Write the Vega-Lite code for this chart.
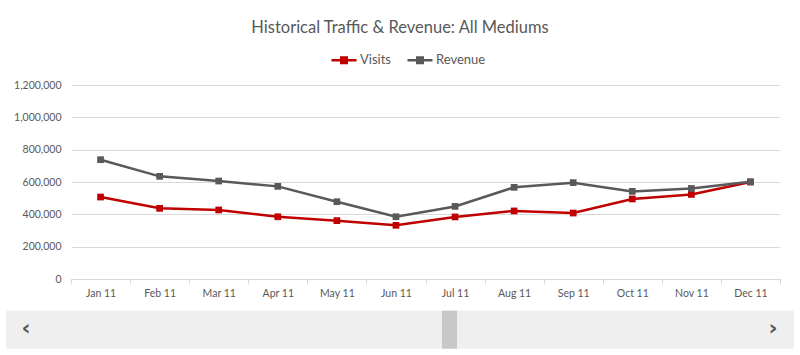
{
  "$schema": "https://vega.github.io/schema/vega-lite/v6.json",
  "width": 709,
  "height": 194,
  "autosize": {"type": "none"},
  "padding": {"left": 71, "top": 85, "right": 20, "bottom": 76},
  "background": "white",
  "title": {
    "text": "Historical Traffic & Revenue: All Mediums",
    "font": "Lato",
    "fontSize": 16.5,
    "fontWeight": "normal",
    "color": "#595959",
    "anchor": "middle",
    "frame": "bounds",
    "offset": 10
  },
  "config": {
    "view": {"stroke": null},
    "font": "Lato"
  },
  "datasets": {
    "series": [
      {"month": "Jan 11", "series": "Visits", "value": 507000},
      {"month": "Feb 11", "series": "Visits", "value": 437000},
      {"month": "Mar 11", "series": "Visits", "value": 427000},
      {"month": "Apr 11", "series": "Visits", "value": 385000},
      {"month": "May 11", "series": "Visits", "value": 361000},
      {"month": "Jun 11", "series": "Visits", "value": 332000},
      {"month": "Jul 11", "series": "Visits", "value": 384000},
      {"month": "Aug 11", "series": "Visits", "value": 421000},
      {"month": "Sep 11", "series": "Visits", "value": 408000},
      {"month": "Oct 11", "series": "Visits", "value": 495000},
      {"month": "Nov 11", "series": "Visits", "value": 523000},
      {"month": "Dec 11", "series": "Visits", "value": 600000},
      {"month": "Jan 11", "series": "Revenue", "value": 738000},
      {"month": "Feb 11", "series": "Revenue", "value": 635000},
      {"month": "Mar 11", "series": "Revenue", "value": 606000},
      {"month": "Apr 11", "series": "Revenue", "value": 573000},
      {"month": "May 11", "series": "Revenue", "value": 478000},
      {"month": "Jun 11", "series": "Revenue", "value": 385000},
      {"month": "Jul 11", "series": "Revenue", "value": 449000},
      {"month": "Aug 11", "series": "Revenue", "value": 567000},
      {"month": "Sep 11", "series": "Revenue", "value": 596000},
      {"month": "Oct 11", "series": "Revenue", "value": 542000},
      {"month": "Nov 11", "series": "Revenue", "value": 560000},
      {"month": "Dec 11", "series": "Revenue", "value": 601000}
    ],
    "arrows": [
      {"arrow": "‹", "side": "left"},
      {"arrow": "›", "side": "right"}
    ]
  },
  "resolve": {"scale": {"x": "independent", "y": "independent"}},
  "layer": [
    {
      "data": {"values": [{}]},
      "mark": {"type": "rect", "color": "#efefef"},
      "encoding": {
        "x": {"datum": -65, "type": "quantitative", "scale": {"domain": [0, 709], "nice": false, "zero": false}, "axis": null},
        "x2": {"datum": 723},
        "y": {"datum": -196000, "type": "quantitative", "scale": {"domain": [0, 1200000], "nice": false}, "axis": null},
        "y2": {"datum": -431000}
      }
    },
    {
      "data": {"values": [{}]},
      "mark": {"type": "rect", "color": "#c8c8c8"},
      "encoding": {
        "x": {"datum": 371, "type": "quantitative", "scale": {"domain": [0, 709], "nice": false, "zero": false}, "axis": null},
        "x2": {"datum": 386},
        "y": {"datum": -196000, "type": "quantitative", "scale": {"domain": [0, 1200000], "nice": false}, "axis": null},
        "y2": {"datum": -431000}
      }
    },
    {
      "data": {"name": "arrows"},
      "mark": {"type": "text", "font": "DejaVu Sans", "fontWeight": "bold", "fontSize": 22, "color": "#595959", "baseline": "middle", "align": "center"},
      "encoding": {
        "x": {"field": "side", "type": "nominal", "scale": {"type": "point", "padding": 0, "domain": ["left", "right"], "range": [-45, 702]}, "axis": null},
        "y": {"datum": -305000, "type": "quantitative", "scale": {"domain": [0, 1200000], "nice": false}, "axis": null},
        "text": {"field": "arrow"}
      }
    },
    {
      "data": {"name": "series"},
      "mark": {
        "type": "line",
        "strokeWidth": 2.5,
        "point": {"filled": true, "shape": "square", "size": 45}
      },
      "encoding": {
        "x": {
          "field": "month",
          "type": "ordinal",
          "sort": null,
          "scale": {"paddingInner": 0, "paddingOuter": 0},
          "axis": {
            "title": null,
            "labelAngle": 0,
            "labelFont": "Lato",
            "labelFontSize": 10.5,
            "labelColor": "#595959",
            "labelPadding": 4,
            "domainColor": "#d9d9d9",
            "tickColor": "#d9d9d9",
            "tickSize": 5,
            "tickBand": "extent",
            "grid": false
          }
        },
        "y": {
          "field": "value",
          "type": "quantitative",
          "scale": {"domain": [0, 1200000], "nice": false},
          "axis": {
            "title": null,
            "values": [0, 200000, 400000, 600000, 800000, 1000000, 1200000],
            "format": ",d",
            "grid": true,
            "labelOverlap": false,
            "domain": false,
            "ticks": false,
            "tickSize": 0,
            "labelPadding": 10,
            "labelFont": "Lato",
            "labelFontSize": 10.5,
            "labelColor": "#595959",
            "gridColor": "#d9d9d9",
            "gridWidth": 1
          }
        },
        "color": {
          "field": "series",
          "type": "nominal",
          "scale": {"domain": ["Visits", "Revenue"], "range": ["#c00000", "#595959"]},
          "legend": {
            "title": null,
            "orient": "none",
            "direction": "horizontal",
            "legendX": 259,
            "legendY": -39,
            "padding": 0,
            "symbolType": "M-1,0H1M-0.22,-0.22H0.22V0.22H-0.22Z",
            "symbolSize": 625,
            "symbolStrokeWidth": 2.5,
            "labelFont": "Lato",
            "labelFontSize": 13,
            "labelColor": "#595959",
            "labelOffset": 2,
            "columnPadding": 11,
            "encode": {
              "symbols": {
                "update": {
                  "fill": {"scale": "color", "field": "value"},
                  "stroke": {"scale": "color", "field": "value"}
                }
              }
            }
          }
        }
      }
    }
  ]
}
